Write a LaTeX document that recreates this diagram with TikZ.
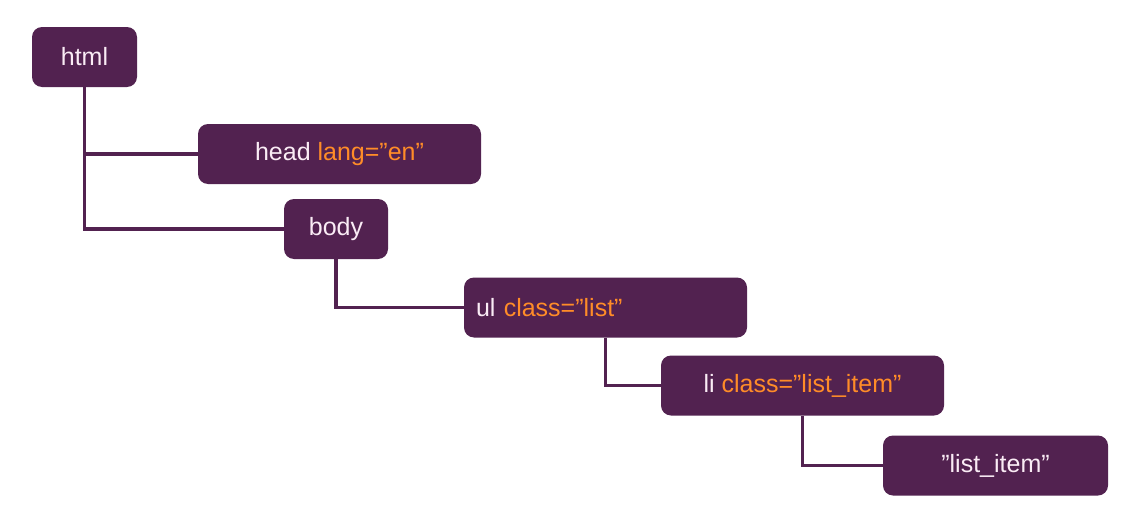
\documentclass[tikz,border=0pt]{standalone}
\usepackage{fontspec}
\setmainfont{Liberation Sans}
\usetikzlibrary{positioning,calc}
\definecolor{treepurple}{RGB}{82,34,80}
\definecolor{attrorange}{RGB}{255,140,40}
\definecolor{tagwhite}{RGB}{250,236,245}

\begin{document}
\begin{tikzpicture}[x=1pt,y=-1pt,
    tag/.style={rectangle, rounded corners=10pt, fill=treepurple, text=tagwhite,
      minimum height=60pt, inner sep=0pt, font=\fontsize{25}{30}\selectfont},
    link/.style={draw=treepurple, line width=3.5pt}]
				\useasboundingbox (0,0) rectangle (1144,522);
				% Draw tag boxes
				\node[tag, minimum width=105pt] (html) at (84.5,57) {html};
				\node[tag, minimum width=283pt] (head) at (339.5,154) {head \textcolor{attrorange}{lang="en"}};
				\node[tag, minimum width=104pt] (body) at (336,229) {body};
				\node[tag, minimum width=283pt, text width=259pt, align=left] (ul) at (605.5,307.5) {ul \textcolor{attrorange}{class="list"}};
				\node[tag, minimum width=283pt] (li) at (802.5,385.5) {li \textcolor{attrorange}{class="list\_item"}};
				\node[tag, minimum width=225pt] (item) at (995.5,465.5) {"list\_item"};
				
				% Draw tree connections
				\draw[link] (html.south) |- (head.west);
				\draw[link] (html.south) |- (body.west);
				\draw[link] (body.south) |- (ul.west);
				\draw[link] (ul.south) |- (li.west);
				\draw[link] (li.south) |- (item.west);
			\end{tikzpicture}
\end{document}
